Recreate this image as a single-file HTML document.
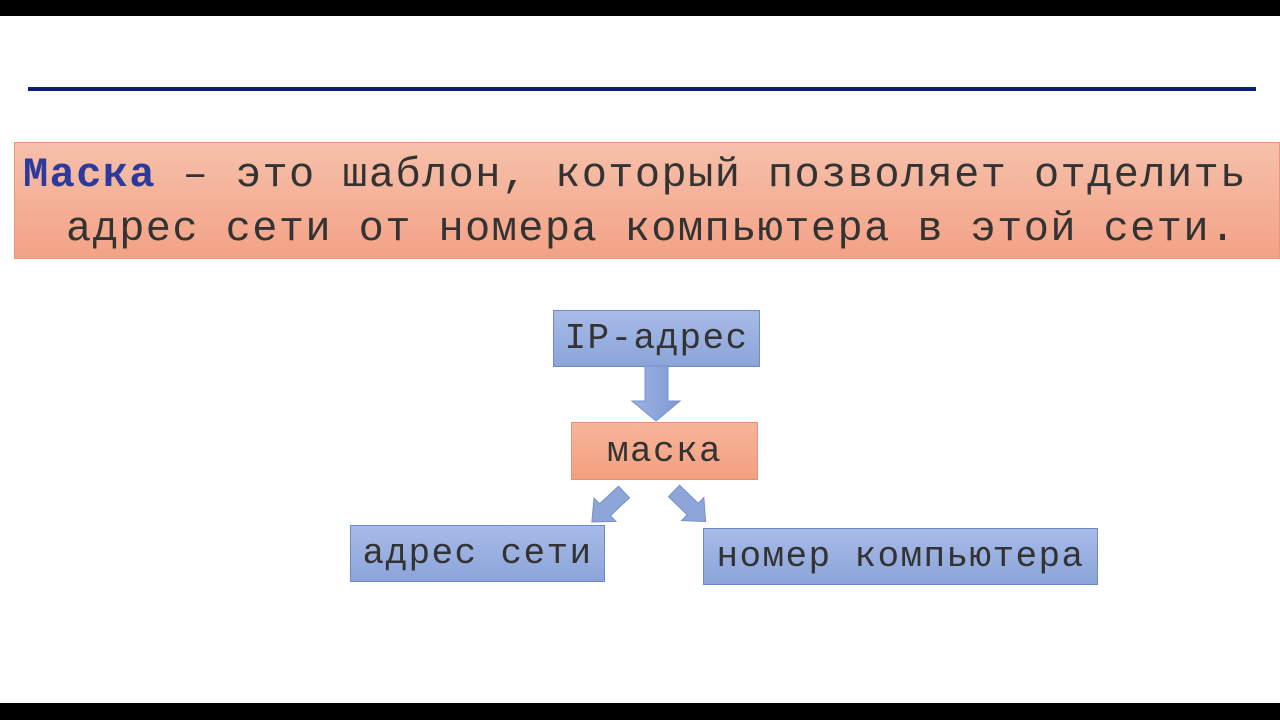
<!DOCTYPE html>
<html><head><meta charset="utf-8"><style>
body{margin:0;width:1280px;height:720px;background:#fff;position:relative;overflow:hidden;font-family:"Liberation Mono","DejaVu Sans Mono",monospace;}
.bar{position:absolute;left:0;width:1280px;background:#000;}
.box{position:absolute;box-sizing:border-box;display:flex;align-items:center;justify-content:center;color:#333;font-size:36px;letter-spacing:1.4px;white-space:nowrap;}
.blue{background:linear-gradient(#a7bbe8,#8ca4d9);border:1px solid #6e89c6;}
.org{background:linear-gradient(#f7b49a,#f3a07f);border:1px solid #e39273;}
</style></head><body>
<div class="bar" style="top:0;height:16px"></div>
<div class="bar" style="top:703px;height:17px"></div>
<div style="position:absolute;left:28px;top:87px;width:1228px;height:4px;background:#0c1f78"></div>
<div style="position:absolute;left:14px;top:142px;width:1266px;height:117px;box-sizing:border-box;background:linear-gradient(#f6c0aa,#f3a286);border:1px solid #e8957a;font-size:42px;letter-spacing:1.4px;color:#333;white-space:nowrap;">
<div style="position:absolute;left:8px;top:8px;"><b style="color:#2b3a9c">Маска</b> – это шаблон, который позволяет отделить</div>
<div style="position:absolute;left:51px;top:62px;">адрес сети от номера компьютера в этой сети.</div>
</div>
<div class="box blue" style="left:553px;top:310px;width:207px;height:57px;">IP-адрес</div>
<div class="box org" style="left:571px;top:422px;width:187px;height:58px;">маска</div>
<div class="box blue" style="left:350px;top:525px;width:255px;height:57px;">адрес сети</div>
<div class="box blue" style="left:703px;top:528px;width:395px;height:57px;">номер компьютера</div>
<svg width="1280" height="720" style="position:absolute;left:0;top:0">
<defs><linearGradient id="g" x1="0" y1="0" x2="1" y2="0"><stop offset="0" stop-color="#9db2e3"/><stop offset="1" stop-color="#7f98d3"/></linearGradient></defs>
<polygon points="645,366 668,366 668,401 680,401 656,421 632,401 645,401" fill="url(#g)" stroke="#7690cc" stroke-width="1"/>
<g transform="translate(624,492) rotate(137)">
<polygon points="0,-8 26,-8 26,-16 44,0 26,16 26,8 0,8" fill="#8ea5da" stroke="#7690cc"/></g>
<g transform="translate(674,491) rotate(44)">
<polygon points="0,-8 26,-8 26,-16 44,0 26,16 26,8 0,8" fill="#8ea5da" stroke="#7690cc"/></g>
</svg>
</body></html>
